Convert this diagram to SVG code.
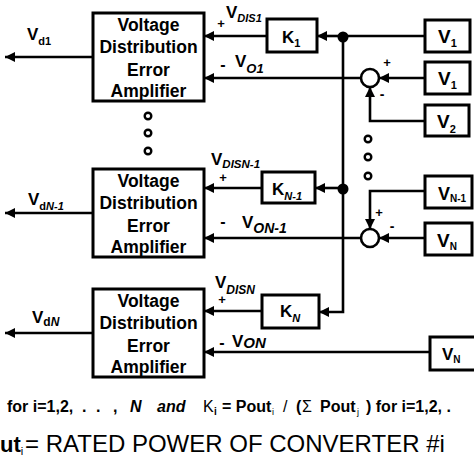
<svg xmlns="http://www.w3.org/2000/svg" width="474" height="474" viewBox="0 0 474 474">
<defs>
<marker id="ah" viewBox="0 0 10 10" refX="10" refY="5" markerWidth="11" markerHeight="10" markerUnits="userSpaceOnUse" orient="auto"><path d="M0,0 L10,5 L0,10 z" fill="#000"/></marker>
<style>
.box{fill:#fff;stroke:#000;stroke-width:3}
.ln{fill:none;stroke:#000;stroke-width:2.6}
.ar{fill:none;stroke:#000;stroke-width:2.6;marker-end:url(#ah)}
.t{font-family:"Liberation Sans",Arial,sans-serif;font-weight:bold;fill:#000}
.bt{font-size:17.5px;text-anchor:middle}
.big{font-size:17px}
.sub{font-size:11px}
.it{font-style:italic}
.dot{fill:#fff;stroke:#000;stroke-width:2.4}
.rg{font-weight:normal}
</style>
</defs>
<rect width="474" height="474" fill="#fff"/>

<g id="connectors">
<path class="ar" d="M93,57 H5"/>
<path class="ar" d="M93,213 H5"/>
<path class="ar" d="M93,333 H5"/>
<path class="ar" d="M267,36 H204"/>
<path class="ln" d="M425,36 H343"/>
<path class="ar" d="M343,36 H317"/>
<path class="ar" d="M361,78 H204"/>
<path class="ar" d="M425,78 H379"/>
<path class="ar" d="M425,121 H370 V87"/>
<path class="ar" d="M343,36 V312 H319"/>
<path class="ar" d="M262,311 H204"/>
<path class="ar" d="M343,188 H315"/>
<path class="ar" d="M262,188 H204"/>
<path class="ar" d="M361,238 H204"/>
<path class="ar" d="M425,191 H370 V229"/>
<path class="ar" d="M425,238 H379"/>
<path class="ar" d="M430,352 H204"/>
<circle cx="343" cy="37" r="5.5" fill="#000"/>
<circle cx="343" cy="189" r="5.5" fill="#000"/>
</g>

<g id="amp1">
<rect class="box" x="93" y="13" width="111" height="88"/>
<text class="t bt" x="148.5" y="31">Voltage</text>
<text class="t bt" x="148.5" y="53">Distribution</text>
<text class="t bt" x="148.5" y="76">Error</text>
<text class="t bt" x="148.5" y="97">Amplifier</text>
</g>
<g id="amp2">
<rect class="box" x="93" y="169" width="111" height="88"/>
<text class="t bt" x="148.5" y="187">Voltage</text>
<text class="t bt" x="148.5" y="209">Distribution</text>
<text class="t bt" x="148.5" y="232">Error</text>
<text class="t bt" x="148.5" y="253">Amplifier</text>
</g>
<g id="amp3">
<rect class="box" x="93" y="289" width="111" height="88"/>
<text class="t bt" x="148.5" y="307">Voltage</text>
<text class="t bt" x="148.5" y="329">Distribution</text>
<text class="t bt" x="148.5" y="352">Error</text>
<text class="t bt" x="148.5" y="373">Amplifier</text>
</g>

<g id="dots-left">
<circle class="dot" cx="148" cy="116" r="3.3"/>
<circle class="dot" cx="148" cy="133" r="3.3"/>
<circle class="dot" cx="148" cy="151" r="3.3"/>
</g>
<g id="dots-right">
<circle class="dot" cx="368" cy="139" r="3.3"/>
<circle class="dot" cx="368" cy="157" r="3.3"/>
<circle class="dot" cx="368" cy="176" r="3.3"/>
</g>

<g id="out-labels">
<text class="t big" x="27" y="40">V<tspan class="sub" dy="5">d1</tspan></text>
<text class="t big" x="28" y="205">V<tspan class="sub" dy="5">d</tspan><tspan class="sub it">N-1</tspan></text>
<text class="t big" x="32" y="323">V<tspan font-size="12" dy="3">d</tspan><tspan font-size="12" class="it">N</tspan></text>
</g>

<g id="in-labels">
<text class="t" font-size="13" x="221" y="28" text-anchor="middle">+</text>
<text class="t big" x="226" y="18">V<tspan class="sub it" dy="4">DIS1</tspan></text>
<text class="t" font-size="16" x="223" y="70" text-anchor="middle">-</text>
<text class="t big" x="235" y="67">V<tspan class="it" font-size="13" dy="6">O1</tspan></text>

<text class="t big" x="211" y="165">V<tspan class="it" font-size="11.5" dy="3">DISN-1</tspan></text>
<text class="t" font-size="13" x="223" y="182" text-anchor="middle">+</text>
<text class="t" font-size="16" x="223" y="227" text-anchor="middle">-</text>
<text class="t big" x="242" y="228">V<tspan class="it" font-size="14" dy="5">ON-1</tspan></text>

<text class="t big" x="215" y="288">V<tspan class="it" font-size="12" dy="6">DISN</tspan></text>
<text class="t" font-size="13" x="222" y="304" text-anchor="middle">+</text>
<text class="t" font-size="16" x="222" y="348" text-anchor="middle">-</text>
<text class="t big" x="232" y="347">V<tspan class="it" font-size="15" dy="1">ON</tspan></text>
</g>

<g id="k1">
<rect class="box" x="267" y="19" width="50" height="33"/>
<text class="t" font-size="17" x="282" y="43">K<tspan class="sub" dy="4">1</tspan></text>
</g>
<g id="kN-1">
<rect class="box" x="262" y="172" width="53" height="31"/>
<text class="t" font-size="17" x="272" y="195">K<tspan class="sub it" dy="5">N-1</tspan></text>
</g>
<g id="kN">
<rect class="box" x="262" y="295" width="57" height="33"/>
<text class="t" font-size="17" x="280" y="317">K<tspan class="sub it" dy="5">N</tspan></text>
</g>

<g id="sum1">
<circle cx="370" cy="78" r="9" fill="#fff" stroke="#000" stroke-width="2.6"/>
<text class="t" font-size="13" x="387" y="67" text-anchor="middle">+</text>
<text class="t" font-size="14" x="382" y="99" text-anchor="middle">-</text>
</g>
<g id="sum2">
<circle cx="370" cy="238" r="9" fill="#fff" stroke="#000" stroke-width="2.6"/>
<text class="t" font-size="13" x="379" y="217" text-anchor="middle">+</text>
<text class="t" font-size="14" x="392" y="231" text-anchor="middle">-</text>
</g>

<g id="v1a">
<rect class="box" x="425" y="20" width="45" height="32"/>
<text class="t" font-size="19" x="438" y="43">V<tspan class="sub" dy="4">1</tspan></text>
</g>
<g id="v1b">
<rect class="box" x="425" y="62" width="45" height="32"/>
<text class="t" font-size="19" x="438" y="85">V<tspan class="sub" dy="4">1</tspan></text>
</g>
<g id="v2">
<rect class="box" x="425" y="105" width="44" height="31"/>
<text class="t" font-size="19" x="437" y="128">V<tspan class="sub" dy="5">2</tspan></text>
</g>
<g id="vN-1">
<rect class="box" x="425" y="176" width="47" height="32"/>
<text class="t" font-size="18" x="438" y="200">V<tspan font-size="10" dy="2">N-1</tspan></text>
</g>
<g id="vN">
<rect class="box" x="425" y="223" width="47" height="32"/>
<text class="t" font-size="19" x="437" y="247">V<tspan font-size="10" dy="3">N</tspan></text>
</g>
<g id="vN-bottom">
<rect class="box" x="430" y="337" width="48" height="33"/>
<text class="t" font-size="17" x="442" y="360">V<tspan font-size="10" dy="3">N</tspan></text>
</g>

<g id="footnote">
<text class="t" font-size="16" y="412"><tspan x="7">for i=1,2,</tspan><tspan x="82">.</tspan><tspan x="96">.</tspan><tspan x="113">,</tspan><tspan x="130" class="it">N</tspan><tspan x="157" class="it">and</tspan><tspan x="203" class="rg">K</tspan><tspan x="214" font-size="10" dy="3">i</tspan><tspan x="222" dy="-3">= Pout</tspan><tspan x="272" font-size="9" dy="3" class="rg">i</tspan><tspan x="283" dy="-3" class="rg">/</tspan><tspan x="296">(</tspan><tspan x="302" class="rg">Σ</tspan><tspan x="320">Pout</tspan><tspan x="357" font-size="9" dy="3" class="rg">j</tspan><tspan x="366" dy="-3">) for i=1,2, .</tspan></text>
<text class="t" font-size="24" y="452"><tspan x="0" font-size="22">ut</tspan><tspan font-size="11" dy="3" class="rg">i</tspan><tspan x="25" dy="-3" class="rg">= RATED POWER OF CONVERTER #i</tspan></text>
</g>
</svg>
